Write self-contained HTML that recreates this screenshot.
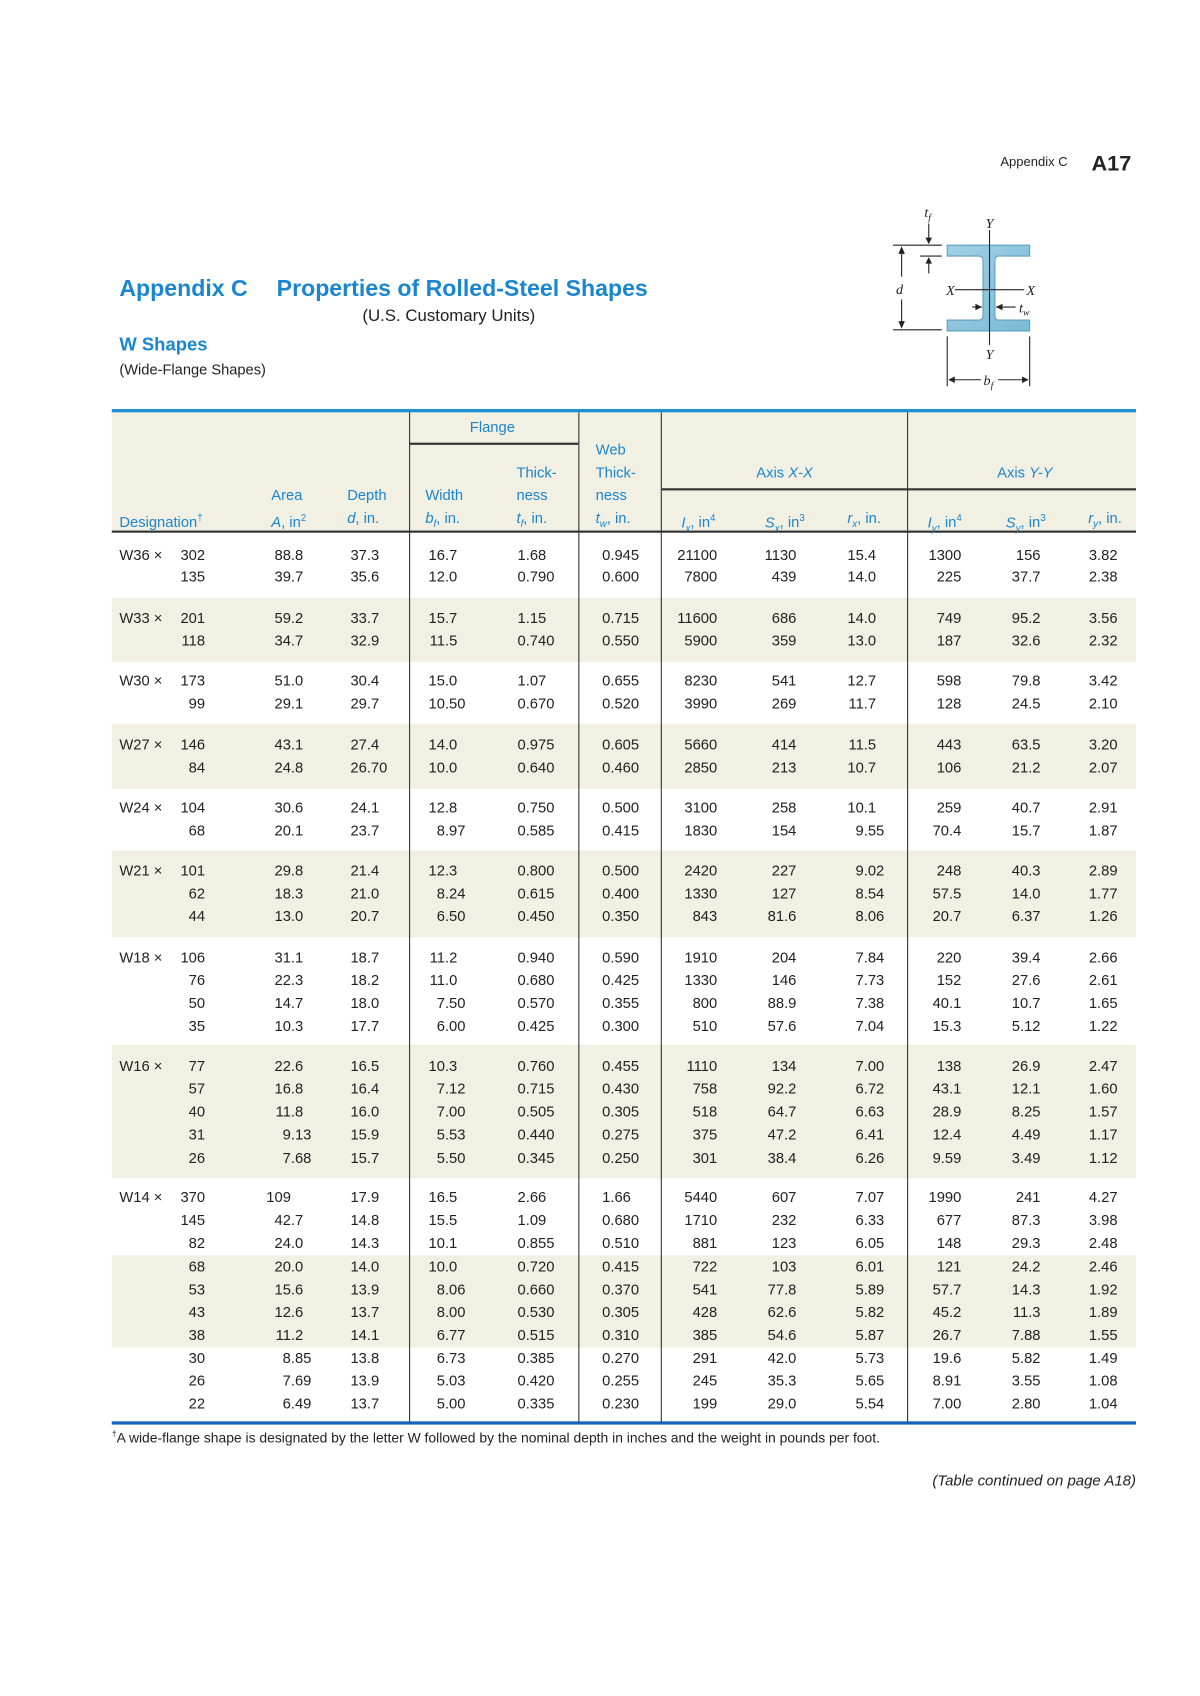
<!DOCTYPE html>
<html><head><meta charset="utf-8"><style>
html,body{margin:0;padding:0;background:#fff}
body{width:1200px;height:1696px;overflow:hidden;position:relative}
.pg{position:absolute;left:0;top:0;width:1106px;height:1563px;transform:scale(1.085);transform-origin:0 0;font-family:"Liberation Sans",sans-serif;color:#222}
.ab{position:absolute;white-space:nowrap}
.bl{color:#1a86cf}
.r{position:absolute;left:0;width:1106px;height:16px;line-height:16px;font-size:13.6px;color:#222}
.r em{position:absolute;left:110px;font-style:normal}
.r span{position:absolute;white-space:nowrap}
.r span:nth-of-type(1){right:917px}
.r span:nth-of-type(2){right:819px}.r span:nth-of-type(3){right:749px}.r span:nth-of-type(4){right:677px}
.r span:nth-of-type(5){right:595px}.r span:nth-of-type(6){right:517px}.r span:nth-of-type(7){right:445px}
.r span:nth-of-type(8){right:372px}.r span:nth-of-type(9){right:291px}.r span:nth-of-type(10){right:220px}
.r span:nth-of-type(11){right:147px}.r span:nth-of-type(12){right:76px}
.p{padding-right:.556em}.q{padding-right:1.39em}
.band{position:absolute;left:103px;width:944px;background:#f2efe3}
.vl{position:absolute;width:1px;background:#333;top:380px;height:931px}
.h{position:absolute;font-size:13.6px;line-height:21px;color:#1a86cf;white-space:nowrap}
</style></head><body><div class="pg">
<div class="ab" style="left:922px;top:142px;font-size:12px">Appendix C</div>
<div class="ab" style="left:1006px;top:140px;font-size:20px;font-weight:bold">A17</div>
<div class="ab bl" style="left:110px;top:254px;font-size:21.3px;font-weight:bold">Appendix C</div>
<div class="ab bl" style="left:255px;top:254px;font-size:21.3px;font-weight:bold">Properties of Rolled-Steel Shapes</div>
<div class="ab" style="left:334px;top:283px;font-size:15.5px">(U.S. Customary Units)</div>
<div class="ab bl" style="left:110px;top:308px;font-size:17px;font-weight:bold">W Shapes</div>
<div class="ab" style="left:110px;top:333px;font-size:13.5px">(Wide-Flange Shapes)</div>
<svg class="ab" style="left:815px;top:185px" width="150" height="180" viewBox="815 185 150 180">
<defs><linearGradient id="g" x1="0" y1="0" x2="1" y2="1"><stop offset="0" stop-color="#9fd0e4"/><stop offset="1" stop-color="#7dbad6"/></linearGradient></defs>
<path d="M873 226H949V236H920Q917 236 917 240V291Q917 295 920 295H949V305H873V295H902Q906 295 906 291V240Q906 236 902 236H873Z" fill="url(#g)" stroke="#5aa0c0"/>
<g stroke="#222" stroke-width="1" fill="none">
<line x1="912" y1="212" x2="912" y2="318"/><line x1="880" y1="267" x2="944" y2="267"/>
<line x1="823" y1="226" x2="868" y2="226"/><line x1="823" y1="304" x2="868" y2="304"/>
<line x1="831" y1="230" x2="831" y2="255"/><line x1="831" y1="276" x2="831" y2="300"/>
<line x1="848" y1="236" x2="868" y2="236"/><line x1="856" y1="206" x2="856" y2="224"/><line x1="856" y1="238" x2="856" y2="252"/>
<line x1="896" y1="283" x2="905" y2="283"/><line x1="918" y1="283" x2="936" y2="283"/>
<line x1="873" y1="310" x2="873" y2="356"/><line x1="949" y1="310" x2="949" y2="356"/>
<line x1="875" y1="350" x2="904" y2="350"/><line x1="920" y1="350" x2="947" y2="350"/></g>
<g fill="#222"><path d="M831 227l-3 7h6z"/><path d="M831 303l-3-7h6z"/><path d="M856 225l-3-6h6z"/><path d="M856 237l-3 6h6z"/>
<path d="M905 283l-6-3v6z"/><path d="M918 283l6-3v6z"/><path d="M874 350l6-3v6z"/><path d="M948 350l-6-3v6z"/></g>
<g font-family="Liberation Serif" font-style="italic" font-size="13" fill="#222" text-anchor="middle">
<text x="912" y="210">Y</text><text x="912" y="331">Y</text><text x="876" y="272">X</text><text x="950" y="272">X</text>
<text x="829" y="271">d</text><text x="855" y="200">t<tspan font-size="9" dy="3">f</tspan></text>
<text x="944" y="288">t<tspan font-size="9" dy="3">w</tspan></text><text x="911" y="355">b<tspan font-size="9" dy="3">f</tspan></text></g>
</svg>
<div class="band" style="top:380px;height:110px"></div>
<div class="band" style="top:551px;height:59px"></div>
<div class="band" style="top:667px;height:60px"></div>
<div class="band" style="top:784px;height:80px"></div>
<div class="band" style="top:963px;height:123px"></div>
<div class="band" style="top:1157px;height:85px"></div>
<div class="ab" style="left:103px;top:377px;width:944px;height:3px;background:#1a8fd6"></div>
<div class="ab" style="left:103px;top:489px;width:944px;height:1.5px;background:#333"></div>
<div class="ab" style="left:377px;top:408px;width:156px;height:1.5px;background:#333"></div>
<div class="ab" style="left:610px;top:450px;width:437px;height:1.5px;background:#333"></div>
<div class="ab" style="left:103px;top:1310px;width:944px;height:3px;background:#1565c0"></div>
<div class="vl" style="left:377px"></div><div class="vl" style="left:533px"></div>
<div class="vl" style="left:609px"></div><div class="vl" style="left:836px"></div>
<div class="h" style="left:433px;top:383px">Flange</div>
<div class="h" style="left:549px;top:404px">Web<br>Thick-<br>ness<br><i>t<sub style="font-size:9px">w</sub></i>, in.</div>
<div class="h" style="left:476px;top:425px">Thick-<br>ness<br><i>t<sub style="font-size:9px">f</sub></i>, in.</div>
<div class="h" style="left:392px;top:446px">Width<br><i>b<sub style="font-size:9px">f</sub></i>, in.</div>
<div class="h" style="left:250px;top:446px">Area<br><i>A</i>, in<sup style="font-size:9px">2</sup></div>
<div class="h" style="left:320px;top:446px">Depth<br><i>d</i>, in.</div>
<div class="h" style="left:110px;top:467px">Designation<sup style="font-size:9px">†</sup></div>
<div class="h" style="left:697px;top:425px">Axis <i>X-X</i></div>
<div class="h" style="left:919px;top:425px">Axis <i>Y-Y</i></div>
<div class="h" style="left:628px;top:467px"><i>I<sub style="font-size:9px">x</sub></i>, in<sup style="font-size:9px">4</sup></div>
<div class="h" style="left:705px;top:467px"><i>S<sub style="font-size:9px">x</sub></i>, in<sup style="font-size:9px">3</sup></div>
<div class="h" style="left:781px;top:467px"><i>r<sub style="font-size:9px">x</sub></i>, in.</div>
<div class="h" style="left:855px;top:467px"><i>I<sub style="font-size:9px">y</sub></i>, in<sup style="font-size:9px">4</sup></div>
<div class="h" style="left:927px;top:467px"><i>S<sub style="font-size:9px">y</sub></i>, in<sup style="font-size:9px">3</sup></div>
<div class="h" style="left:1003px;top:467px"><i>r<sub style="font-size:9px">y</sub></i>, in.</div>

<div class="r" style="top:504px"><em>W36 ×</em><span>302</span><span class="p">88.8</span><span class="p">37.3</span><span class="p">16.7</span><span class="p">1.68</span><span>0.945</span><span>21100</span><span>1130</span><span class="p">15.4</span><span>1300</span><span>156</span><span>3.82</span></div>
<div class="r" style="top:524px"><span>135</span><span class="p">39.7</span><span class="p">35.6</span><span class="p">12.0</span><span>0.790</span><span>0.600</span><span>7800</span><span>439</span><span class="p">14.0</span><span>225</span><span>37.7</span><span>2.38</span></div>
<div class="r" style="top:562px"><em>W33 ×</em><span>201</span><span class="p">59.2</span><span class="p">33.7</span><span class="p">15.7</span><span class="p">1.15</span><span>0.715</span><span>11600</span><span>686</span><span class="p">14.0</span><span>749</span><span>95.2</span><span>3.56</span></div>
<div class="r" style="top:583px"><span>118</span><span class="p">34.7</span><span class="p">32.9</span><span class="p">11.5</span><span>0.740</span><span>0.550</span><span>5900</span><span>359</span><span class="p">13.0</span><span>187</span><span>32.6</span><span>2.32</span></div>
<div class="r" style="top:620px"><em>W30 ×</em><span>173</span><span class="p">51.0</span><span class="p">30.4</span><span class="p">15.0</span><span class="p">1.07</span><span>0.655</span><span>8230</span><span>541</span><span class="p">12.7</span><span>598</span><span>79.8</span><span>3.42</span></div>
<div class="r" style="top:641px"><span>99</span><span class="p">29.1</span><span class="p">29.7</span><span>10.50</span><span>0.670</span><span>0.520</span><span>3990</span><span>269</span><span class="p">11.7</span><span>128</span><span>24.5</span><span>2.10</span></div>
<div class="r" style="top:679px"><em>W27 ×</em><span>146</span><span class="p">43.1</span><span class="p">27.4</span><span class="p">14.0</span><span>0.975</span><span>0.605</span><span>5660</span><span>414</span><span class="p">11.5</span><span>443</span><span>63.5</span><span>3.20</span></div>
<div class="r" style="top:700px"><span>84</span><span class="p">24.8</span><span>26.70</span><span class="p">10.0</span><span>0.640</span><span>0.460</span><span>2850</span><span>213</span><span class="p">10.7</span><span>106</span><span>21.2</span><span>2.07</span></div>
<div class="r" style="top:737px"><em>W24 ×</em><span>104</span><span class="p">30.6</span><span class="p">24.1</span><span class="p">12.8</span><span>0.750</span><span>0.500</span><span>3100</span><span>258</span><span class="p">10.1</span><span>259</span><span>40.7</span><span>2.91</span></div>
<div class="r" style="top:758px"><span>68</span><span class="p">20.1</span><span class="p">23.7</span><span>8.97</span><span>0.585</span><span>0.415</span><span>1830</span><span>154</span><span>9.55</span><span>70.4</span><span>15.7</span><span>1.87</span></div>
<div class="r" style="top:795px"><em>W21 ×</em><span>101</span><span class="p">29.8</span><span class="p">21.4</span><span class="p">12.3</span><span>0.800</span><span>0.500</span><span>2420</span><span>227</span><span>9.02</span><span>248</span><span>40.3</span><span>2.89</span></div>
<div class="r" style="top:816px"><span>62</span><span class="p">18.3</span><span class="p">21.0</span><span>8.24</span><span>0.615</span><span>0.400</span><span>1330</span><span>127</span><span>8.54</span><span>57.5</span><span>14.0</span><span>1.77</span></div>
<div class="r" style="top:837px"><span>44</span><span class="p">13.0</span><span class="p">20.7</span><span>6.50</span><span>0.450</span><span>0.350</span><span>843</span><span>81.6</span><span>8.06</span><span>20.7</span><span>6.37</span><span>1.26</span></div>
<div class="r" style="top:875px"><em>W18 ×</em><span>106</span><span class="p">31.1</span><span class="p">18.7</span><span class="p">11.2</span><span>0.940</span><span>0.590</span><span>1910</span><span>204</span><span>7.84</span><span>220</span><span>39.4</span><span>2.66</span></div>
<div class="r" style="top:896px"><span>76</span><span class="p">22.3</span><span class="p">18.2</span><span class="p">11.0</span><span>0.680</span><span>0.425</span><span>1330</span><span>146</span><span>7.73</span><span>152</span><span>27.6</span><span>2.61</span></div>
<div class="r" style="top:917px"><span>50</span><span class="p">14.7</span><span class="p">18.0</span><span>7.50</span><span>0.570</span><span>0.355</span><span>800</span><span>88.9</span><span>7.38</span><span>40.1</span><span>10.7</span><span>1.65</span></div>
<div class="r" style="top:938px"><span>35</span><span class="p">10.3</span><span class="p">17.7</span><span>6.00</span><span>0.425</span><span>0.300</span><span>510</span><span>57.6</span><span>7.04</span><span>15.3</span><span>5.12</span><span>1.22</span></div>
<div class="r" style="top:975px"><em>W16 ×</em><span>77</span><span class="p">22.6</span><span class="p">16.5</span><span class="p">10.3</span><span>0.760</span><span>0.455</span><span>1110</span><span>134</span><span>7.00</span><span>138</span><span>26.9</span><span>2.47</span></div>
<div class="r" style="top:996px"><span>57</span><span class="p">16.8</span><span class="p">16.4</span><span>7.12</span><span>0.715</span><span>0.430</span><span>758</span><span>92.2</span><span>6.72</span><span>43.1</span><span>12.1</span><span>1.60</span></div>
<div class="r" style="top:1017px"><span>40</span><span class="p">11.8</span><span class="p">16.0</span><span>7.00</span><span>0.505</span><span>0.305</span><span>518</span><span>64.7</span><span>6.63</span><span>28.9</span><span>8.25</span><span>1.57</span></div>
<div class="r" style="top:1038px"><span>31</span><span>9.13</span><span class="p">15.9</span><span>5.53</span><span>0.440</span><span>0.275</span><span>375</span><span>47.2</span><span>6.41</span><span>12.4</span><span>4.49</span><span>1.17</span></div>
<div class="r" style="top:1060px"><span>26</span><span>7.68</span><span class="p">15.7</span><span>5.50</span><span>0.345</span><span>0.250</span><span>301</span><span>38.4</span><span>6.26</span><span>9.59</span><span>3.49</span><span>1.12</span></div>
<div class="r" style="top:1096px"><em>W14 ×</em><span>370</span><span class="q">109</span><span class="p">17.9</span><span class="p">16.5</span><span class="p">2.66</span><span class="p">1.66</span><span>5440</span><span>607</span><span>7.07</span><span>1990</span><span>241</span><span>4.27</span></div>
<div class="r" style="top:1117px"><span>145</span><span class="p">42.7</span><span class="p">14.8</span><span class="p">15.5</span><span class="p">1.09</span><span>0.680</span><span>1710</span><span>232</span><span>6.33</span><span>677</span><span>87.3</span><span>3.98</span></div>
<div class="r" style="top:1138px"><span>82</span><span class="p">24.0</span><span class="p">14.3</span><span class="p">10.1</span><span>0.855</span><span>0.510</span><span>881</span><span>123</span><span>6.05</span><span>148</span><span>29.3</span><span>2.48</span></div>
<div class="r" style="top:1160px"><span>68</span><span class="p">20.0</span><span class="p">14.0</span><span class="p">10.0</span><span>0.720</span><span>0.415</span><span>722</span><span>103</span><span>6.01</span><span>121</span><span>24.2</span><span>2.46</span></div>
<div class="r" style="top:1181px"><span>53</span><span class="p">15.6</span><span class="p">13.9</span><span>8.06</span><span>0.660</span><span>0.370</span><span>541</span><span>77.8</span><span>5.89</span><span>57.7</span><span>14.3</span><span>1.92</span></div>
<div class="r" style="top:1202px"><span>43</span><span class="p">12.6</span><span class="p">13.7</span><span>8.00</span><span>0.530</span><span>0.305</span><span>428</span><span>62.6</span><span>5.82</span><span>45.2</span><span>11.3</span><span>1.89</span></div>
<div class="r" style="top:1223px"><span>38</span><span class="p">11.2</span><span class="p">14.1</span><span>6.77</span><span>0.515</span><span>0.310</span><span>385</span><span>54.6</span><span>5.87</span><span>26.7</span><span>7.88</span><span>1.55</span></div>
<div class="r" style="top:1244px"><span>30</span><span>8.85</span><span class="p">13.8</span><span>6.73</span><span>0.385</span><span>0.270</span><span>291</span><span>42.0</span><span>5.73</span><span>19.6</span><span>5.82</span><span>1.49</span></div>
<div class="r" style="top:1265px"><span>26</span><span>7.69</span><span class="p">13.9</span><span>5.03</span><span>0.420</span><span>0.255</span><span>245</span><span>35.3</span><span>5.65</span><span>8.91</span><span>3.55</span><span>1.08</span></div>
<div class="r" style="top:1286px"><span>22</span><span>6.49</span><span class="p">13.7</span><span>5.00</span><span>0.335</span><span>0.230</span><span>199</span><span>29.0</span><span>5.54</span><span>7.00</span><span>2.80</span><span>1.04</span></div>

<div class="ab" style="left:103px;top:1317px;font-size:12.8px"><sup style="font-size:8px">†</sup>A wide-flange shape is designated by the letter W followed by the nominal depth in inches and the weight in pounds per foot.</div>
<div class="ab" style="right:59px;top:1357px;font-size:13.8px;font-style:italic">(Table continued on page A18)</div>
</div></body></html>
